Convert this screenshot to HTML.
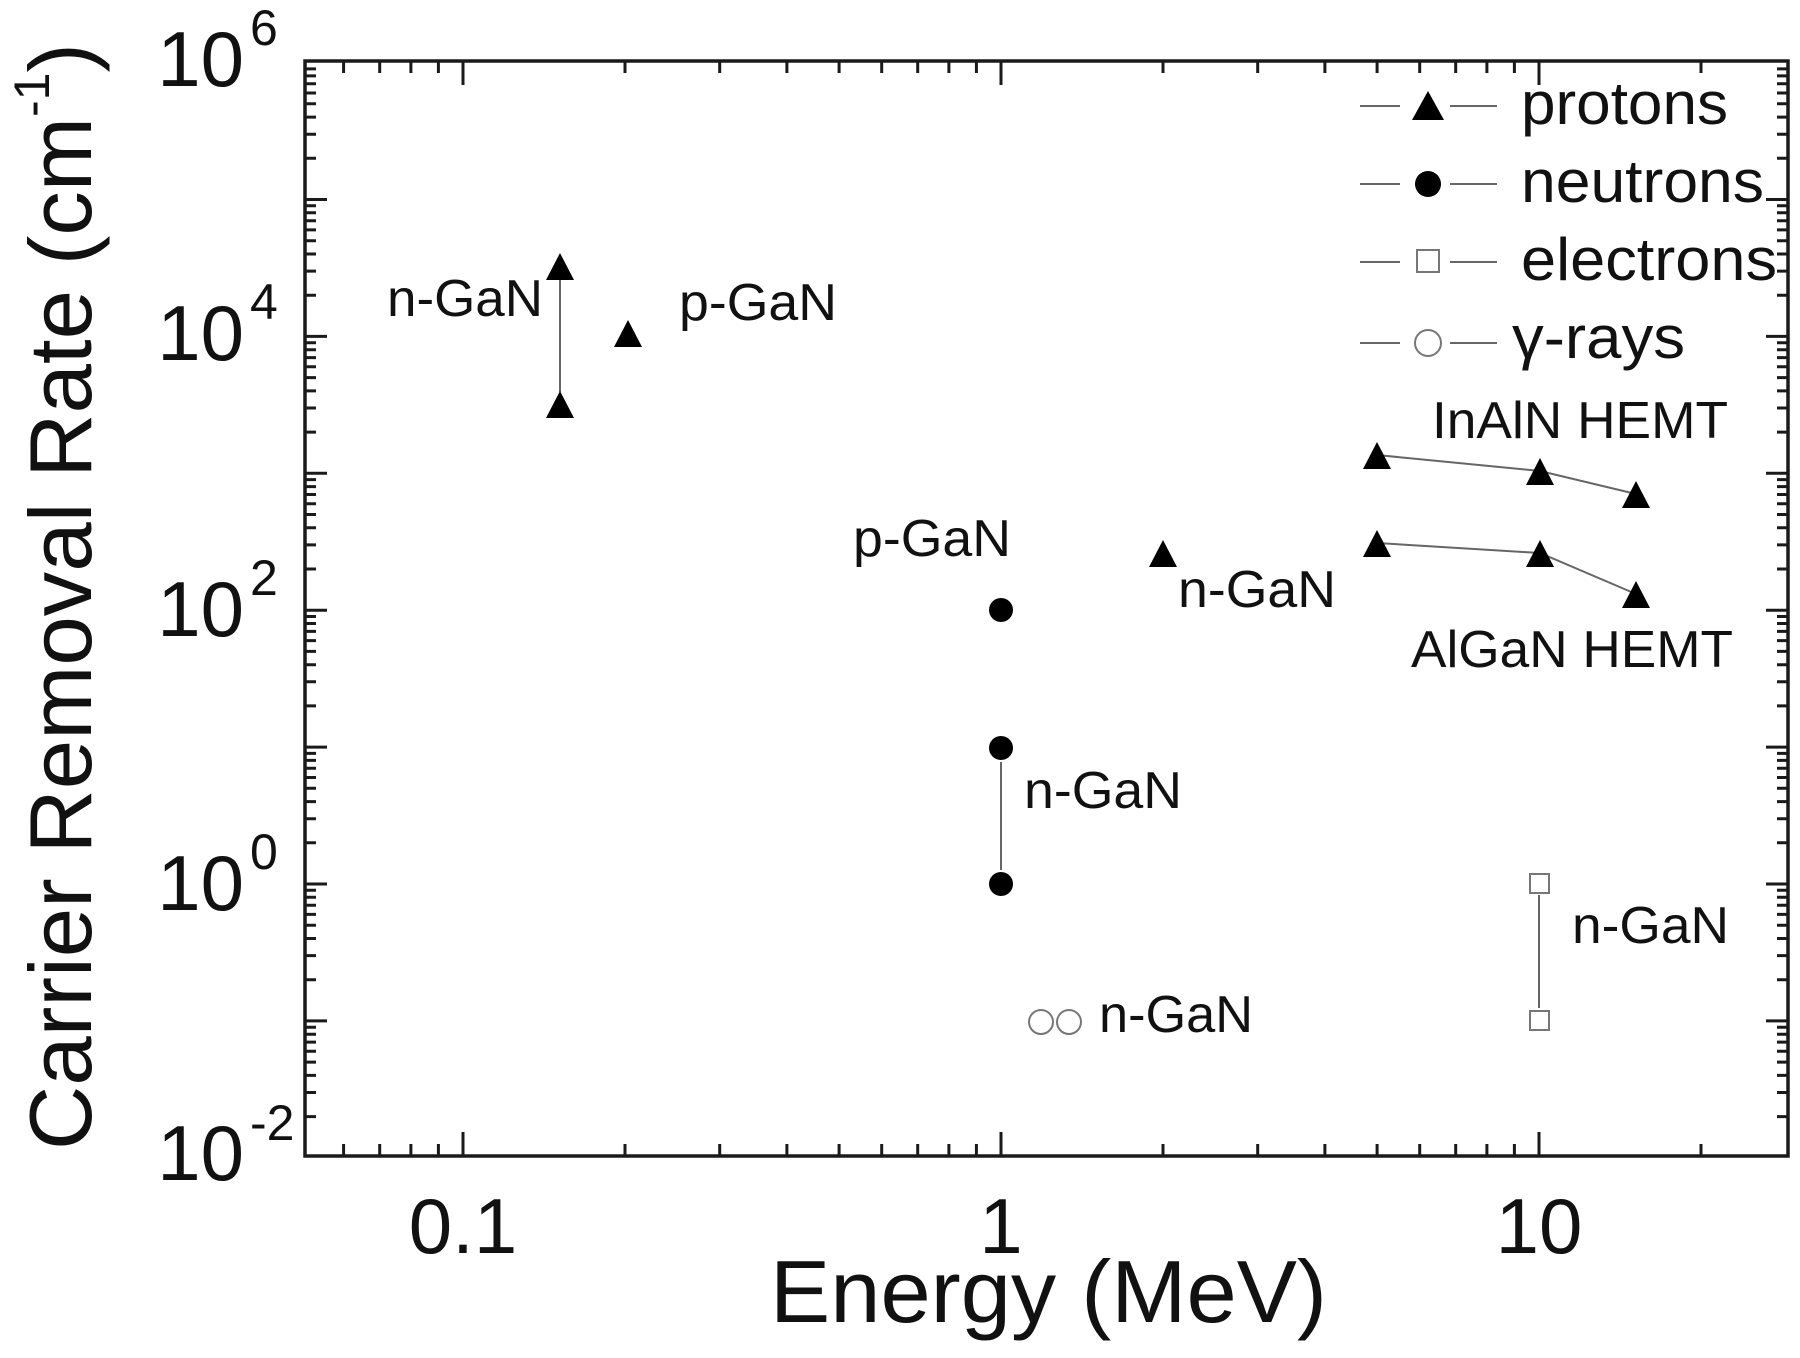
<!DOCTYPE html>
<html><head><meta charset="utf-8"><style>
html,body{margin:0;padding:0;background:#fff;}
svg{display:block;}
text{font-family:"Liberation Sans",Arial,sans-serif;fill:#111;}
</style></head><body>
<svg width="1800" height="1358" viewBox="0 0 1800 1358" xmlns="http://www.w3.org/2000/svg">
<defs>
<g id="yt" stroke="#1a1a1a" stroke-width="3">
<path d="M0 1020.9h22M0 884h22M0 747.1h22M0 610.2h22M0 473.3h22M0 336.4h22M0 199.5h22"/>
<path d="M0 1116.6h11M0 1092.5h11M0 1075.4h11M0 1062.1h11M0 1051.3h11M0 1042.1h11M0 1034.2h11M0 1027.2h11
M0 979.7h11M0 955.6h11M0 938.5h11M0 925.2h11M0 914.4h11M0 905.2h11M0 897.3h11M0 890.3h11
M0 842.8h11M0 818.7h11M0 801.6h11M0 788.3h11M0 777.5h11M0 768.3h11M0 760.4h11M0 753.4h11
M0 705.9h11M0 681.8h11M0 664.7h11M0 651.4h11M0 640.6h11M0 631.4h11M0 623.5h11M0 616.5h11
M0 569.0h11M0 544.9h11M0 527.8h11M0 514.5h11M0 503.7h11M0 494.5h11M0 486.6h11M0 479.6h11
M0 432.1h11M0 408.0h11M0 390.9h11M0 377.6h11M0 366.8h11M0 357.6h11M0 349.7h11M0 342.7h11
M0 295.2h11M0 271.1h11M0 254.0h11M0 240.7h11M0 229.9h11M0 220.7h11M0 212.8h11M0 205.8h11
M0 158.3h11M0 134.2h11M0 117.1h11M0 103.8h11M0 93.0h11M0 83.8h11M0 75.9h11M0 68.9h11"/>
</g>
<g id="xt" stroke="#1a1a1a" stroke-width="3">
<path d="M463 0v24M1001 0v24M1539 0v24"/>
<path d="M343.6 0v12M379.7 0v12M410.9 0v12M438.4 0v12
M625 0v12M719.7 0v12M786.9 0v12M839.1 0v12M881.7 0v12M917.7 0v12M948.9 0v12M976.4 0v12
M1163 0v12M1257.7 0v12M1324.9 0v12M1377.1 0v12M1419.7 0v12M1455.7 0v12M1486.9 0v12M1514.4 0v12
M1701 0v12"/>
</g>
</defs>
<use href="#yt" transform="translate(305,0)"/>
<use href="#yt" transform="translate(1788,0) scale(-1,1)"/>
<use href="#xt" transform="translate(0,61)"/>
<use href="#xt" transform="translate(0,1156) scale(1,-1)"/>
<rect x="305" y="61" width="1483" height="1095" fill="none" stroke="#1a1a1a" stroke-width="3.5"/>
<!-- y tick labels -->
<g font-size="78" text-anchor="end">
<text x="244" y="86">10</text><text x="244" y="360">10</text><text x="244" y="636">10</text><text x="244" y="910">10</text><text x="244" y="1180">10</text>
</g>
<g font-size="50">
<text x="250" y="45">6</text><text x="250" y="319">4</text><text x="250" y="595">2</text><text x="250" y="869">0</text><text x="250" y="1140">-2</text>
</g>
<!-- x tick labels -->
<g font-size="78" text-anchor="middle">
<text x="463" y="1253">0.1</text><text x="1001" y="1253">1</text><text x="1539" y="1253">10</text>
</g>
<text x="770" y="1322" font-size="88" textLength="557" lengthAdjust="spacingAndGlyphs">Energy (MeV)</text>
<text transform="translate(91,1150) rotate(-90)" font-size="88"><tspan textLength="1033" lengthAdjust="spacingAndGlyphs">Carrier Removal Rate (cm</tspan><tspan font-size="50" dy="-42">-1</tspan><tspan dy="42">)</tspan></text>
<!-- connecting lines -->
<g stroke="#666" stroke-width="2" fill="none">
<line x1="560" y1="280" x2="560" y2="392"/>
<line x1="1001" y1="762" x2="1001" y2="870"/>
<line x1="1539" y1="895" x2="1539" y2="1008"/>
<polyline points="1377,455 1540,471 1636,494"/>
<polyline points="1377,543 1540,553 1636,594"/>
<line x1="1360" y1="106" x2="1400" y2="106"/><line x1="1450" y1="106" x2="1497" y2="106"/>
<line x1="1360" y1="184" x2="1400" y2="184"/><line x1="1450" y1="184" x2="1497" y2="184"/>
<line x1="1360" y1="262" x2="1400" y2="262"/><line x1="1450" y1="262" x2="1497" y2="262"/>
<line x1="1360" y1="343" x2="1400" y2="343"/><line x1="1450" y1="343" x2="1497" y2="343"/>
</g>
<!-- triangles -->
<g fill="#000">
<polygon points="560,253 546,280 574,280"/>
<polygon points="560,391 546,418 574,418"/>
<polygon points="628,320 614,347 642,347"/>
<polygon points="1163,540 1149,567 1177,567"/>
<polygon points="1377,442 1363,469 1391,469"/>
<polygon points="1540,458 1526,485 1554,485"/>
<polygon points="1636,481 1622,508 1650,508"/>
<polygon points="1377,530 1363,557 1391,557"/>
<polygon points="1540,540 1526,567 1554,567"/>
<polygon points="1636,581 1622,608 1650,608"/>
<polygon points="1428,91 1412,120 1444,120"/>
<circle cx="1001" cy="610" r="12"/><circle cx="1001" cy="748" r="12"/><circle cx="1001" cy="884" r="12"/>
<circle cx="1428" cy="184" r="13"/>
</g>
<g fill="#fff" stroke="#777" stroke-width="2">
<circle cx="1041" cy="1022" r="12"/><circle cx="1069" cy="1022" r="12"/>
<circle cx="1428" cy="343" r="13"/>
<rect x="1530" y="874" width="19" height="19"/><rect x="1530" y="1011" width="19" height="19"/>
<rect x="1417" y="250" width="22" height="22"/>
</g>
<!-- legend text -->
<g font-size="60">
<text x="1521" y="124" textLength="207" lengthAdjust="spacingAndGlyphs">protons</text>
<text x="1521" y="202" textLength="243" lengthAdjust="spacingAndGlyphs">neutrons</text>
<text x="1521" y="280" textLength="256" lengthAdjust="spacingAndGlyphs">electrons</text>
<text x="1512" y="358" textLength="173" lengthAdjust="spacingAndGlyphs">γ-rays</text>
</g>
<!-- annotations -->
<g font-size="52">
<text x="387" y="316" textLength="156" lengthAdjust="spacingAndGlyphs">n-GaN</text>
<text x="679" y="320" textLength="158" lengthAdjust="spacingAndGlyphs">p-GaN</text>
<text x="853" y="556" textLength="158" lengthAdjust="spacingAndGlyphs">p-GaN</text>
<text x="1178" y="607" textLength="158" lengthAdjust="spacingAndGlyphs">n-GaN</text>
<text x="1432" y="438" textLength="296" lengthAdjust="spacingAndGlyphs">InAlN HEMT</text>
<text x="1411" y="667" textLength="322" lengthAdjust="spacingAndGlyphs">AlGaN HEMT</text>
<text x="1024" y="808" textLength="158" lengthAdjust="spacingAndGlyphs">n-GaN</text>
<text x="1572" y="943" textLength="157" lengthAdjust="spacingAndGlyphs">n-GaN</text>
<text x="1099" y="1032" textLength="154" lengthAdjust="spacingAndGlyphs">n-GaN</text>
</g>
</svg>
</body></html>
